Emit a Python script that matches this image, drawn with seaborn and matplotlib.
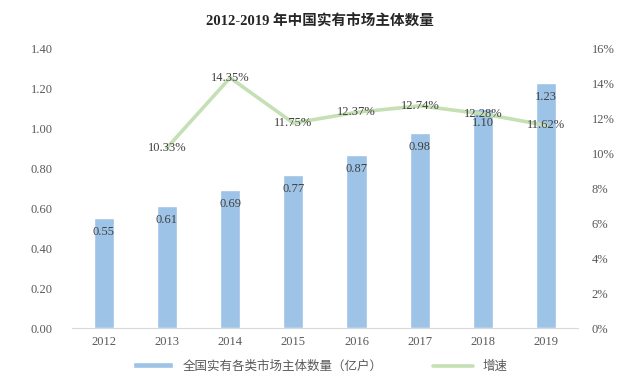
import matplotlib
matplotlib.use('Agg')
import matplotlib.pyplot as plt
import seaborn as sns
import pandas as pd
from matplotlib.ticker import FuncFormatter

years = ['2012', '2013', '2014', '2015', '2016', '2017', '2018', '2019']
counts = [0.55, 0.61, 0.69, 0.77, 0.87, 0.98, 1.10, 1.23]
growth_years = ['2013', '2014', '2015', '2016', '2017', '2018', '2019']
growth = [10.33, 14.35, 11.75, 12.37, 12.74, 12.28, 11.62]

title = '2012-2019 年中国实有市场主体数量'
bar_label = '全国实有各类市场主体数量（亿户）'
line_label = '增速'

sns.set_style('white')
plt.rcParams['font.family'] = ['Liberation Serif', 'Noto Sans CJK SC']

bar_color = '#9DC3E6'
line_color = '#C5E0B4'
text_color = '#595959'
label_color = '#404040'

df = pd.DataFrame({'year': years, 'count': counts})
gx = [years.index(y) for y in growth_years]

fig = plt.figure(figsize=(6.4, 3.84), dpi=100)
ax = fig.add_axes([0.1125, 0.1458, 0.7906, 0.7266])

sns.barplot(data=df, x='year', y='count', color=bar_color, width=0.32,
            saturation=1, ax=ax, label=bar_label)
if ax.get_legend() is not None:
    ax.get_legend().remove()
ax.set_ylim(0, 1.4)
ax.set_yticks([i * 0.2 for i in range(8)])
ax.yaxis.set_major_formatter(FuncFormatter(lambda v, p: f'{v:.2f}'))
ax.set_xlabel('')
ax.set_ylabel('')
ax.set_xlim(-0.5, len(years) - 0.5)

for i, v in enumerate(counts):
    ax.text(i, v - 0.07, f'{v:.2f}', ha='center', va='center',
            fontsize=9, color=label_color)

ax2 = ax.twinx()
sns.lineplot(x=gx, y=growth, ax=ax2, color=line_color, linewidth=2.6,
             label=line_label, legend=False)
ax2.set_ylim(0, 16)
ax2.set_yticks(range(0, 17, 2))
ax2.yaxis.set_major_formatter(FuncFormatter(lambda v, p: f'{v:.0f}%'))
ax2.set_xlim(-0.5, len(years) - 0.5)

for x, v in zip(gx, growth):
    ax2.text(x, v, f'{v:.2f}%', ha='center', va='center',
             fontsize=9, color=label_color)

for a in (ax, ax2):
    for s in a.spines.values():
        s.set_visible(False)
    a.tick_params(axis='both', length=0, labelsize=9, colors=text_color)
ax.spines['bottom'].set_visible(True)
ax.spines['bottom'].set_color('#D9D9D9')
ax.tick_params(axis='x', pad=6)
ax.tick_params(axis='y', pad=14)
ax2.tick_params(axis='y', pad=10)

h1, l1 = ax.get_legend_handles_labels()
h2, l2 = ax2.get_legend_handles_labels()
leg = fig.legend(h1 + h2, l1 + l2, loc='center', bbox_to_anchor=(0.5, 0.045),
                 ncol=2, frameon=False, fontsize=9, handlelength=3.2,
                 handleheight=0.35, columnspacing=4)
for t in leg.get_texts():
    t.set_color(text_color)

fig.text(0.5, 0.945, title, ha='center', va='center', fontsize=10.5,
         fontweight='bold', color='#262626')

fig.savefig('out.png', dpi=100)
